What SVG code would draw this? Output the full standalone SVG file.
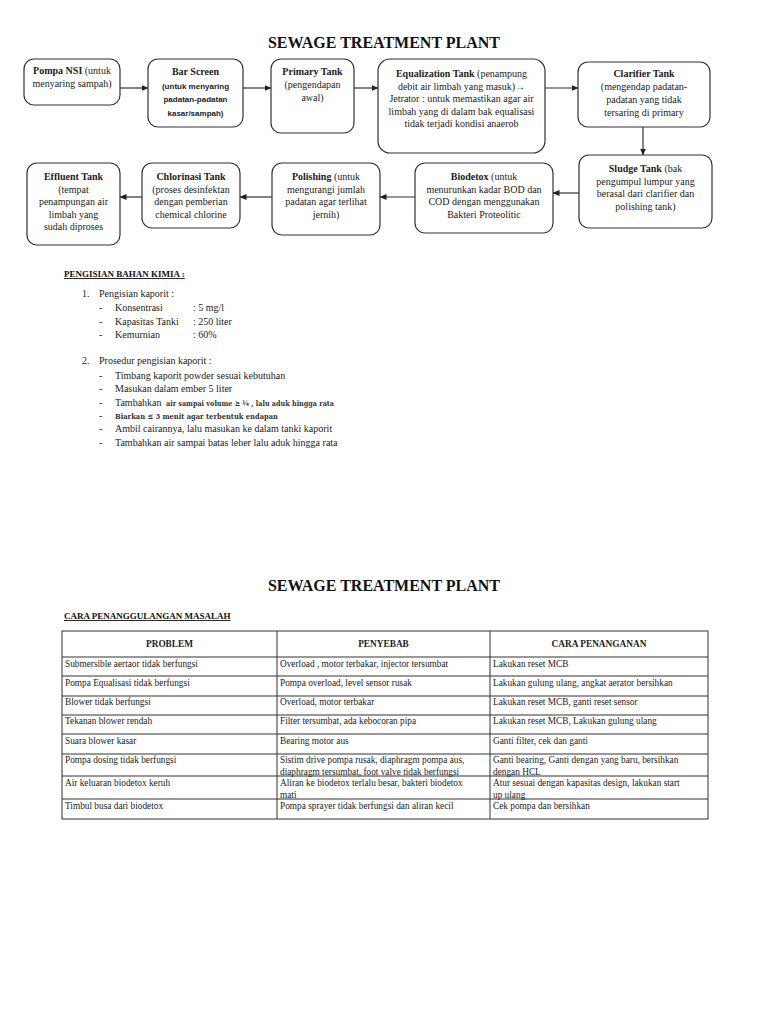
<svg xmlns="http://www.w3.org/2000/svg" width="768" height="1024" viewBox="0 0 768 1024">
<defs>
<marker id="ah" markerWidth="7" markerHeight="6" refX="6.5" refY="3" orient="auto" markerUnits="userSpaceOnUse">
<path d="M0,0 L7,3 L0,6 z" fill="#222"/>
</marker>
<style>
.bg{fill:#fff}
.box{fill:#fff;stroke:#333;stroke-width:1.2}
.t{font-family:"Liberation Serif","Times New Roman",serif;font-size:10px;fill:#222}
.c{text-anchor:middle}
.b{font-weight:bold}
.title{font-family:"Liberation Serif","Times New Roman",serif;font-size:16px;font-weight:bold;text-anchor:middle;fill:#111}
.h{font-family:"Liberation Serif","Times New Roman",serif;font-size:9px;font-weight:bold;fill:#111;text-decoration:underline}
.l{font-family:"Liberation Serif","Times New Roman",serif;font-size:10px;fill:#222}
.sans{font-family:"Liberation Sans",Arial,sans-serif;font-size:8px;font-weight:bold;fill:#222}
.odd{font-family:"DejaVu Serif",serif;font-size:8px;font-weight:bold;fill:#333}
.tb{font-family:"Liberation Serif","Times New Roman",serif;font-size:9.3px;fill:#222}
.tl{stroke:#333;stroke-width:1;fill:none}
.conn{stroke:#333;stroke-width:1.2;fill:none;marker-end:url(#ah)}
</style>
</defs>
<rect class="bg" x="0" y="0" width="768" height="1024"/>
<text class="title" x="384" y="48">SEWAGE TREATMENT PLANT</text>

<g id="connectors">
<line class="conn" x1="120" y1="88" x2="148" y2="88"/>
<line class="conn" x1="243" y1="88" x2="271" y2="88"/>
<line class="conn" x1="354" y1="88" x2="378" y2="88"/>
<line class="conn" x1="545" y1="88" x2="578" y2="88"/>
<line class="conn" x1="643" y1="127" x2="643" y2="155"/>
<line class="conn" x1="579" y1="193" x2="553" y2="193"/>
<line class="conn" x1="415" y1="197" x2="380" y2="197"/>
<line class="conn" x1="272" y1="197" x2="240" y2="197"/>
<line class="conn" x1="142" y1="197" x2="120" y2="197"/>
</g>

<g id="pompa-nsi">
<rect class="box" x="24" y="59" width="96" height="46" rx="10"/>
<text class="t c" x="72" y="74"><tspan class="b">Pompa NSI</tspan> (untuk</text>
<text class="t c" x="72" y="87">menyaring sampah)</text>
</g>
<g id="bar-screen">
<rect class="box" x="148" y="59" width="95" height="68" rx="10"/>
<text class="t c b" x="195.5" y="75">Bar Screen</text>
<text class="sans c" x="195.5" y="89">(untuk menyaring</text>
<text class="sans c" x="195.5" y="102">padatan-padatan</text>
<text class="sans c" x="195.5" y="116">kasar/sampah)</text>
</g>
<g id="primary-tank">
<rect class="box" x="271" y="59" width="83" height="74" rx="10"/>
<text class="t c b" x="312.5" y="75">Primary Tank</text>
<text class="t c" x="312.5" y="88">(pengendapan</text>
<text class="t c" x="312.5" y="101">awal)</text>
</g>
<g id="equalization-tank">
<rect class="box" x="378" y="59" width="167" height="94" rx="12"/>
<text class="t c" x="461.5" y="77"><tspan class="b">Equalization Tank</tspan> (penampung</text>
<text class="t c" x="461.5" y="89.5">debit air limbah yang masuk)→</text>
<text class="t c" x="461.5" y="102">Jetrator : untuk memastikan agar air</text>
<text class="t c" x="461.5" y="114.5">limbah yang di dalam bak equalisasi</text>
<text class="t c" x="461.5" y="127">tidak terjadi kondisi anaerob</text>
</g>
<g id="clarifier-tank">
<rect class="box" x="578" y="62" width="132" height="65" rx="10"/>
<text class="t c b" x="644" y="77">Clarifier Tank</text>
<text class="t c" x="644" y="90">(mengendap padatan-</text>
<text class="t c" x="644" y="103">padatan yang tidak</text>
<text class="t c" x="644" y="116">tersaring di primary</text>
</g>
<g id="sludge-tank">
<rect class="box" x="579" y="155" width="133" height="73" rx="10"/>
<text class="t c" x="645.5" y="172"><tspan class="b">Sludge Tank</tspan> (bak</text>
<text class="t c" x="645.5" y="184.5">pengumpul lumpur yang</text>
<text class="t c" x="645.5" y="197">berasal dari clarifier dan</text>
<text class="t c" x="645.5" y="209.5">polishing tank)</text>
</g>
<g id="biodetox">
<rect class="box" x="415" y="163" width="138" height="70" rx="10"/>
<text class="t c" x="484" y="180"><tspan class="b">Biodetox</tspan> (untuk</text>
<text class="t c" x="484" y="192.5">menurunkan kadar BOD dan</text>
<text class="t c" x="484" y="205">COD dengan menggunakan</text>
<text class="t c" x="484" y="217.5">Bakteri Proteolitic</text>
</g>
<g id="polishing">
<rect class="box" x="272" y="163" width="108" height="72" rx="10"/>
<text class="t c" x="326" y="180"><tspan class="b">Polishing</tspan> (untuk</text>
<text class="t c" x="326" y="192.5">mengurangi jumlah</text>
<text class="t c" x="326" y="205">padatan  agar terlihat</text>
<text class="t c" x="326" y="217.5">jernih)</text>
</g>
<g id="chlorinasi-tank">
<rect class="box" x="142" y="163" width="98" height="65" rx="10"/>
<text class="t c b" x="191" y="180">Chlorinasi Tank</text>
<text class="t c" x="191" y="192.5">(proses desinfektan</text>
<text class="t c" x="191" y="205">dengan pemberian</text>
<text class="t c" x="191" y="217.5">chemical chlorine</text>
</g>
<g id="effluent-tank">
<rect class="box" x="27" y="163" width="93" height="82" rx="10"/>
<text class="t c b" x="73.5" y="180">Effluent Tank</text>
<text class="t c" x="73.5" y="192.5">(tempat</text>
<text class="t c" x="73.5" y="205">penampungan air</text>
<text class="t c" x="73.5" y="217.5">limbah yang</text>
<text class="t c" x="73.5" y="230">sudah diproses</text>
</g>

<g id="pengisian">
<text class="h" x="64" y="277">PENGISIAN BAHAN KIMIA :</text>
<text class="l" x="82" y="297">1.</text>
<text class="l" x="99" y="297">Pengisian kaporit :</text>
<text class="l" x="99" y="311">-</text><text class="l" x="115" y="311">Konsentrasi</text><text class="l" x="193" y="311">: 5 mg/l</text>
<text class="l" x="99" y="325">-</text><text class="l" x="115" y="325">Kapasitas Tanki</text><text class="l" x="193" y="325">: 250 liter</text>
<text class="l" x="99" y="338">-</text><text class="l" x="115" y="338">Kemurnian</text><text class="l" x="193" y="338">: 60%</text>
<text class="l" x="82" y="364">2.</text>
<text class="l" x="99" y="364">Prosedur pengisian kaporit :</text>
<text class="l" x="99" y="379">-</text><text class="l" x="115" y="379">Timbang kaporit powder sesuai kebutuhan</text>
<text class="l" x="99" y="392">-</text><text class="l" x="115" y="392">Masukan dalam ember 5 liter</text>
<text class="l" x="99" y="405.5">-</text><text class="l" x="115" y="405.5">Tambahkan</text>
<text class="odd" x="166" y="405.5" textLength="168" lengthAdjust="spacingAndGlyphs">air sampai volume ≥ ¼  , lalu aduk hingga rata</text>
<text class="l" x="99" y="419">-</text>
<text class="odd" x="115" y="419" textLength="163" lengthAdjust="spacingAndGlyphs">Biarkan ≤ 3 menit agar terbentuk endapan</text>
<text class="l" x="99" y="432">-</text><text class="l" x="115" y="432">Ambil cairannya, lalu masukan ke dalam tanki kaporit</text>
<text class="l" x="99" y="446">-</text><text class="l" x="115" y="446">Tambahkan air sampai batas leher lalu aduk hingga rata</text>
</g>

<text class="title" x="384" y="591">SEWAGE TREATMENT PLANT</text>
<text class="h" x="64" y="619">CARA PENANGGULANGAN MASALAH</text>

<g id="table">
<rect class="tl" x="62" y="631" width="646" height="188" stroke-width="1.3"/>
<line class="tl" x1="277" y1="631" x2="277" y2="819"/>
<line class="tl" x1="490" y1="631" x2="490" y2="819"/>
<line class="tl" x1="62" y1="657" x2="708" y2="657"/>
<line class="tl" x1="62" y1="676" x2="708" y2="676"/>
<line class="tl" x1="62" y1="696" x2="708" y2="696"/>
<line class="tl" x1="62" y1="715" x2="708" y2="715"/>
<line class="tl" x1="62" y1="734" x2="708" y2="734"/>
<line class="tl" x1="62" y1="754" x2="708" y2="754"/>
<line class="tl" x1="62" y1="776" x2="708" y2="776"/>
<line class="tl" x1="62" y1="799" x2="708" y2="799"/>
<text class="tb b c" x="169.5" y="647">PROBLEM</text>
<text class="tb b c" x="383.5" y="647">PENYEBAB</text>
<text class="tb b c" x="599" y="647">CARA PENANGANAN</text>

<text class="tb" x="65" y="666.5">Submersible aertaor tidak berfungsi</text>
<text class="tb" x="280" y="666.5">Overload , motor terbakar, injector tersumbat</text>
<text class="tb" x="493" y="666.5">Lakukan reset MCB</text>

<text class="tb" x="65" y="685.5">Pompa Equalisasi tidak berfungsi</text>
<text class="tb" x="280" y="685.5">Pompa overload, level sensor rusak</text>
<text class="tb" x="493" y="685.5">Lakukan gulung ulang, angkat aerator bersihkan</text>

<text class="tb" x="65" y="705">Blower tidak berfungsi</text>
<text class="tb" x="280" y="705">Overload, motor terbakar</text>
<text class="tb" x="493" y="705">Lakukan reset MCB, ganti reset sensor</text>

<text class="tb" x="65" y="724">Tekanan blower rendah</text>
<text class="tb" x="280" y="724">Filter tersumbat, ada kebocoran pipa</text>
<text class="tb" x="493" y="724">Lakukan reset MCB, Lakukan gulung ulang</text>

<text class="tb" x="65" y="743.5">Suara blower kasar</text>
<text class="tb" x="280" y="743.5">Bearing motor aus</text>
<text class="tb" x="493" y="743.5">Ganti filter, cek dan ganti</text>

<text class="tb" x="65" y="763">Pompa dosing tidak berfungsi</text>
<text class="tb" x="280" y="763">Sistim drive pompa rusak, diaphragm pompa aus,</text>
<text class="tb" x="280" y="774.5">diaphragm tersumbat, foot valve tidak berfungsi</text>
<text class="tb" x="493" y="763">Ganti bearing, Ganti dengan yang baru, bersihkan</text>
<text class="tb" x="493" y="774.5">dengan HCL</text>

<text class="tb" x="65" y="785.5">Air keluaran biodetox keruh</text>
<text class="tb" x="280" y="785.5">Aliran ke biodetox terlalu besar, bakteri biodetox</text>
<text class="tb" x="280" y="797.5">mati</text>
<text class="tb" x="493" y="785.5">Atur sesuai dengan kapasitas design, lakukan start</text>
<text class="tb" x="493" y="797.5">up ulang</text>

<text class="tb" x="65" y="808.5">Timbul busa dari biodetox</text>
<text class="tb" x="280" y="808.5">Pompa sprayer tidak berfungsi dan aliran kecil</text>
<text class="tb" x="493" y="808.5">Cek pompa dan bersihkan</text>
</g>
</svg>
